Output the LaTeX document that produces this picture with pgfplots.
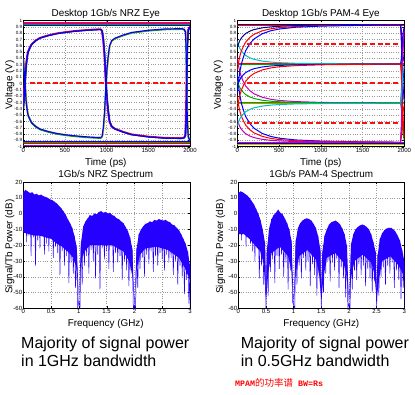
\documentclass[border=0pt]{standalone}
\usepackage{fontspec}
\setmainfont{Liberation Sans}
\newfontfamily\cjk{Noto Sans CJK SC}
\newfontfamily\lmono{Liberation Mono}
\usepackage{pgfplots}
\usepackage{pgfplotstable}
\pgfplotsset{compat=1.18}
\definecolor{mb}{rgb}{0,0,1}
\definecolor{mn}{rgb}{0,0,0.55}
\definecolor{mg}{rgb}{0,0.65,0}
\definecolor{mc}{rgb}{0,0.75,0.75}
\definecolor{mm}{rgb}{0.75,0,0.75}
\definecolor{my}{rgb}{0.75,0.75,0}
\definecolor{mo}{rgb}{0.8,0.55,0}
\definecolor{mk}{rgb}{0.25,0.25,0.25}
\definecolor{mr}{rgb}{1,0,0}
\definecolor{dr}{rgb}{1,0.05,0.05}
\definecolor{sb}{rgb}{0.15,0,1}
\pgfplotsset{mat/.style={scale only axis, anchor=south west,
  axis line style={line width=0.4pt}, tick align=inside, major tick length=2pt,
  tick style={line width=0.3pt, black}, grid=major,
  major grid style={dotted, gray!80, line width=0.35pt},
  xticklabel style={font=\fontsize{6}{6}\selectfont, inner sep=1pt},
  yticklabel style={font=\fontsize{6}{6}\selectfont, inner sep=1pt}},
  eye/.style={mat, xmin=0, xmax=2000, ymin=-1, ymax=1,
  xtick={0,500,1000,1500,2000}, xticklabels={0,500,1000,1500,2000},
  ytick={-1,-0.9,-0.8,-0.7,-0.6,-0.5,-0.4,-0.3,-0.2,-0.1,0,0.1,0.2,0.3,0.4,0.5,0.6,0.7,0.8,0.9,1},
  yticklabels={-1,-0.9,-0.8,-0.7,-0.6,-0.5,-0.4,-0.3,-0.2,-0.1,0,0.1,0.2,0.3,0.4,0.5,0.6,0.7,0.8,0.9,1},
  yticklabel style={font=\fontsize{4.6}{4.6}\selectfont, inner sep=0.8pt}},
  spec/.style={mat, xmin=0, xmax=3, ymin=-60, ymax=20,
  xtick={0,0.5,1,1.5,2,2.5,3}, xticklabels={0,0.5,1,1.5,2,2.5,3},
  ytick={-60,-50,-40,-30,-20,-10,0,10,20}, yticklabels={-60,-50,-40,-30,-20,-10,0,10,20}},
  rdash/.style={color=dr, solid, line width=1.9pt, dash pattern=on 5pt off 2.7pt, forget plot}
}
\pgfplotstableread{
t v
0 -0.40
10 -0.20
20 0.00
35 0.30
50 0.45
60 0.51
80 0.57
100 0.62
150 0.68
200 0.72
300 0.76
400 0.79
500 0.81
600 0.826
700 0.838
800 0.848
900 0.855
930 0.855
945 0.835
960 0.70
975 0.45
990 0.05
1005 -0.25
1020 -0.45
1035 -0.60
1060 -0.68
1100 -0.72
1200 -0.77
1300 -0.81
1500 -0.845
1700 -0.865
1900 -0.87
1930 -0.86
1945 -0.82
1952 -0.6
1957 -0.25
1962 0.2
1968 0.6
1980 0.85
2000 0.9
}\trA
\pgfplotstableread{
t v
0 0.40
10 0.20
20 0.00
35 -0.30
50 -0.45
60 -0.51
80 -0.57
100 -0.62
150 -0.68
200 -0.72
300 -0.76
400 -0.79
500 -0.81
600 -0.826
700 -0.838
800 -0.848
900 -0.855
930 -0.855
945 -0.835
960 -0.70
975 -0.45
990 -0.05
1005 0.25
1020 0.45
1035 0.60
1060 0.68
1100 0.72
1200 0.77
1300 0.81
1500 0.845
1700 0.865
1900 0.87
1930 0.86
1945 0.82
1952 0.6
1957 0.25
1962 -0.2
1968 -0.6
1980 -0.85
2000 -0.9
}\trB
\begin{document}
\begin{tikzpicture}
\useasboundingbox (0,0) rectangle (415pt,394pt);
% ---------------- NRZ eye
\begin{axis}[eye, at={(23.3pt,247.3pt)}, width=166.7pt, height=126.2pt]
\addplot[mg, line width=1pt] coordinates {(0,0.94) (2000,0.94)};
\addplot[mr, line width=1pt] coordinates {(0,0.955) (2000,0.955)};
\addplot[my, line width=0.8pt] coordinates {(0,0.915) (2000,0.915)};
\addplot[mb, line width=0.9pt] coordinates {(0,0.928) (2000,0.928)};
\addplot[mm, line width=0.7pt] coordinates {(0,0.965) (2000,0.965)};
\addplot[mg, line width=0.9pt] coordinates {(0,-0.94) (2000,-0.94)};
\addplot[mb, line width=1pt] coordinates {(0,-0.925) (2000,-0.925)};
\addplot[mr, line width=0.9pt] coordinates {(0,-0.955) (2000,-0.955)};
\addplot[mm, line width=1pt] coordinates {(0,-0.975) (2000,-0.975)};
\addplot[mr, line width=1.1pt, yshift=0.7pt] table[x=t,y=v] {\trA};
\addplot[mm, line width=1.1pt, xshift=-0.6pt] table[x=t,y=v] {\trA};
\addplot[mg, line width=1.1pt, yshift=-0.7pt] table[x=t,y=v] {\trB};
\addplot[my, line width=1.1pt, xshift=0.6pt] table[x=t,y=v] {\trB};
\addplot[mk, line width=1pt, xshift=0.5pt] table[x=t,y=v] {\trA};
\addplot[mb, line width=1.2pt] table[x=t,y=v] {\trA};
\addplot[mb, line width=1.2pt] table[x=t,y=v] {\trB};
\addplot[rdash] coordinates {(75,0.004) (1930,0.004)};
\end{axis}
% ---------------- PAM-4 eye
\begin{axis}[eye, at={(237.3pt,247.3pt)}, width=167pt, height=126.2pt]
\addplot[mc, line width=0.9pt] coordinates {(0,0.94) (2000,0.94)};
\addplot[mr, line width=0.9pt] coordinates {(0,0.92) (2000,0.92)};
\addplot[mn, line width=1pt] coordinates {(0,0.93) (2000,0.93)};
\addplot[mr, line width=0.9pt] coordinates {(0,0.318) (2000,0.318)};
\addplot[mn, line width=0.8pt] coordinates {(0,0.298) (2000,0.298)};
\addplot[mg, line width=1pt] coordinates {(0,0.308) (2000,0.308)};
\addplot[mm, line width=0.9pt] coordinates {(0,-0.322) (2000,-0.322)};
\addplot[mg, line width=0.8pt] coordinates {(0,-0.3) (2000,-0.3)};
\addplot[mo, line width=1pt] coordinates {(0,-0.31) (2000,-0.31)};
\addplot[my, line width=1pt] coordinates {(0,-0.96) (2000,-0.96)};
\addplot[mm, line width=0.9pt] coordinates {(0,-0.93) (2000,-0.93)};
\addplot[mn, line width=1pt] coordinates {(0,-0.945) (2000,-0.945)};
% transitions
\addplot[mc, line width=1pt] coordinates {(0,0.670)(15,0.608)(30,0.558)(50,0.515)(75,0.477)(100,0.446)(150,0.409)(200,0.384)(300,0.356)(400,0.341)(500,0.332)(700,0.322)(1000,0.316)(1400,0.313)(1900,0.31)(1955,0.31)(1965,0.217)(1975,0.0)(1985,-0.186)(2000,-0.279)};
\addplot[mn, line width=1pt] coordinates {(0,0.570)(15,0.632)(30,0.682)(50,0.725)(75,0.763)(100,0.794)(150,0.831)(200,0.856)(300,0.884)(400,0.899)(500,0.908)(700,0.918)(1000,0.924)(1400,0.927)(1900,0.93)(1955,0.93)(1965,0.837)(1975,0.62)(1985,0.434)(2000,0.341)};
\addplot[mm, line width=1pt] coordinates {(0,0.409)(15,0.285)(30,0.186)(50,0.099)(75,0.025)(100,-0.037)(150,-0.112)(200,-0.161)(300,-0.217)(400,-0.248)(500,-0.267)(700,-0.285)(1000,-0.298)(1400,-0.304)(1900,-0.31)(1955,-0.31)(1965,-0.124)(1975,0.31)(1985,0.682)(2000,0.868)};
\addplot[mr, line width=1pt] coordinates {(0,0.211)(15,0.335)(30,0.434)(50,0.521)(75,0.595)(100,0.657)(150,0.732)(200,0.781)(300,0.837)(400,0.868)(500,0.887)(700,0.905)(1000,0.918)(1400,0.924)(1900,0.93)(1955,0.93)(1965,0.651)(1975,0.0)(1985,-0.558)(2000,-0.837)};
\addplot[mb, line width=1pt] coordinates {(0,0.149)(15,-0.037)(30,-0.186)(50,-0.316)(75,-0.428)(100,-0.521)(150,-0.632)(200,-0.707)(300,-0.791)(400,-0.837)(500,-0.865)(700,-0.893)(1000,-0.911)(1400,-0.921)(1900,-0.93)(1955,-0.93)(1965,-0.744)(1975,-0.31)(1985,0.062)(2000,0.248)};
\addplot[mb, line width=1pt] coordinates {(0,-0.149)(15,0.037)(30,0.186)(50,0.316)(75,0.428)(100,0.521)(150,0.632)(200,0.707)(300,0.791)(400,0.837)(500,0.865)(700,0.893)(1000,0.911)(1400,0.921)(1900,0.93)(1955,0.93)(1965,0.744)(1975,0.31)(1985,-0.062)(2000,-0.248)};
\addplot[mg, line width=1pt] coordinates {(0,0.050)(15,-0.012)(30,-0.062)(50,-0.105)(75,-0.143)(100,-0.174)(150,-0.211)(200,-0.236)(300,-0.264)(400,-0.279)(500,-0.288)(700,-0.298)(1000,-0.304)(1400,-0.307)(1900,-0.31)(1955,-0.31)(1965,-0.403)(1975,-0.62)(1985,-0.806)(2000,-0.899)};
\addplot[mb, line width=1pt] coordinates {(0,-0.050)(15,0.012)(30,0.062)(50,0.105)(75,0.143)(100,0.174)(150,0.211)(200,0.236)(300,0.264)(400,0.279)(500,0.288)(700,0.298)(1000,0.304)(1400,0.307)(1900,0.31)(1955,0.31)(1965,0.403)(1975,0.62)(1985,0.806)(2000,0.899)};
\addplot[mr, line width=1pt] coordinates {(0,-0.211)(15,-0.335)(30,-0.434)(50,-0.521)(75,-0.595)(100,-0.657)(150,-0.732)(200,-0.781)(300,-0.837)(400,-0.868)(500,-0.887)(700,-0.905)(1000,-0.918)(1400,-0.924)(1900,-0.93)(1955,-0.93)(1965,-0.837)(1975,-0.62)(1985,-0.434)(2000,-0.341)};
\addplot[mr, line width=1pt] coordinates {(0,-0.409)(15,-0.285)(30,-0.186)(50,-0.099)(75,-0.025)(100,0.037)(150,0.112)(200,0.161)(300,0.217)(400,0.248)(500,0.267)(700,0.285)(1000,0.298)(1400,0.304)(1900,0.31)(1955,0.31)(1965,0.124)(1975,-0.31)(1985,-0.682)(2000,-0.868)};
\addplot[mm, line width=1pt] coordinates {(0,-0.570)(15,-0.632)(30,-0.682)(50,-0.725)(75,-0.763)(100,-0.794)(150,-0.831)(200,-0.856)(300,-0.884)(400,-0.899)(500,-0.908)(700,-0.918)(1000,-0.924)(1400,-0.927)(1900,-0.93)(1955,-0.93)(1965,-0.651)(1975,0.0)(1985,0.558)(2000,0.837)};
\addplot[mc, line width=1pt] coordinates {(0,-0.670)(15,-0.608)(30,-0.558)(50,-0.515)(75,-0.477)(100,-0.446)(150,-0.409)(200,-0.384)(300,-0.356)(400,-0.341)(500,-0.332)(700,-0.322)(1000,-0.316)(1400,-0.313)(1900,-0.31)(1955,-0.31)(1965,-0.217)(1975,0.0)(1985,0.186)(2000,0.279)};
\addplot[rdash] coordinates {(113,-0.63) (1948,-0.63)};
\addplot[rdash] coordinates {(113,0.004) (1948,0.004)};
\addplot[rdash] coordinates {(113,0.63) (1948,0.63)};
\end{axis}
% ---------------- NRZ spectrum
\begin{axis}[spec, at={(23.3pt,85.7pt)}, width=166.7pt, height=126.3pt]
\addplot[fill=sb, draw=none] coordinates {(0,13.5)(0.04,15)(0.08,14)(0.12,13)(0.16,13.5)(0.2,12)(0.24,12.5)(0.28,11.5)(0.32,12)(0.36,11)(0.4,10.5)(0.44,10)(0.48,9)(0.52,8.5)(0.56,7.5)(0.6,6.5)(0.64,5)(0.68,3.5)(0.72,1.5)(0.76,-0.5)(0.8,-3.5)(0.84,-6)(0.88,-9)(0.92,-14)(0.96,-21)(1,-55)(1.04,-18)(1.08,-8)(1.12,-5)(1.16,-3)(1.2,-1)(1.24,-1.5)(1.28,0)(1.32,-0.5)(1.36,1)(1.4,1.5)(1.44,0.5)(1.48,1)(1.52,0)(1.56,0.5)(1.6,-1)(1.64,-1.5)(1.68,-3)(1.72,-3.5)(1.76,-5)(1.8,-6)(1.84,-8.5)(1.88,-11)(1.92,-15)(1.96,-22)(2,-58)(2.04,-22)(2.08,-13)(2.12,-10)(2.16,-8)(2.2,-6.5)(2.24,-6)(2.28,-5)(2.32,-5.5)(2.36,-4)(2.4,-4.5)(2.44,-3.5)(2.48,-4)(2.52,-4.5)(2.56,-4)(2.6,-5)(2.64,-5.5)(2.68,-7)(2.72,-7.5)(2.76,-9)(2.8,-10.5)(2.84,-13)(2.88,-16)(2.92,-19)(2.96,-24)(3,-33)(3,-42)(2.9,-34)(2.8,-28)(2.6,-23)(2.4,-21)(2.2,-22)(2.1,-26)(2.04,-35)(2,-58)(1.96,-38)(1.9,-30)(1.8,-24)(1.6,-20)(1.4,-20)(1.2,-20)(1.1,-24)(1.04,-30)(1,-55)(0.96,-35)(0.9,-28)(0.8,-24)(0.7,-21)(0.6,-19)(0.5,-16)(0.4,-15)(0.3,-14)(0.2,-14)(0.1,-13)(0,-12)} -- cycle;
\addplot[sb, line width=0.5pt] coordinates {(0,13.5)(0.02,-12)(0.04,15)(0.06,-18)(0.08,14)(0.1,-14)(0.12,13)(0.14,-27)(0.16,13.5)(0.18,-15)(0.2,12)(0.22,-33)(0.24,12.5)(0.26,-17)(0.28,11.5)(0.3,-22)(0.32,12)(0.34,-13)(0.36,11)(0.38,-26)(0.4,10.5)(0.42,-19)(0.44,10)(0.46,-24)(0.48,9)(0.5,-16)(0.52,8.5)(0.54,-28)(0.56,7.5)(0.58,-21)(0.6,6.5)(0.62,-25)(0.64,5)(0.66,-39)(0.68,3.5)(0.7,-24)(0.72,1.5)(0.74,-33)(0.76,-0.5)(0.78,-27)(0.8,-3.5)(0.82,-44)(0.84,-6)(0.86,-31)(0.88,-9)(0.9,-38)(0.92,-14)(0.94,-47)(0.96,-21)(0.98,-60)(1,-55)(1.02,-60)(1.04,-18)(1.06,-45)(1.08,-8)(1.1,-33)(1.12,-5)(1.14,-27)(1.16,-3)(1.18,-38)(1.2,-1)(1.22,-23)(1.24,-1.5)(1.26,-30)(1.28,0)(1.3,-41)(1.32,-0.5)(1.34,-26)(1.36,1)(1.38,-48)(1.4,1.5)(1.42,-22)(1.44,0.5)(1.46,-29)(1.48,1)(1.5,-24)(1.52,0)(1.54,-35)(1.56,0.5)(1.58,-21)(1.6,-1)(1.62,-37)(1.64,-1.5)(1.66,-25)(1.68,-3)(1.7,-31)(1.72,-3.5)(1.74,-27)(1.76,-5)(1.78,-42)(1.8,-6)(1.82,-30)(1.84,-8.5)(1.86,-36)(1.88,-11)(1.9,-46)(1.92,-15)(1.94,-38)(1.96,-22)(1.98,-60)(2,-58)(2.02,-60)(2.04,-22)(2.06,-47)(2.08,-13)(2.1,-35)(2.12,-10)(2.14,-28)(2.16,-8)(2.18,-40)(2.2,-6.5)(2.22,-26)(2.24,-6)(2.26,-32)(2.28,-5)(2.3,-24)(2.32,-5.5)(2.34,-37)(2.36,-4)(2.38,-27)(2.4,-4.5)(2.42,-33)(2.44,-3.5)(2.46,-25)(2.48,-4)(2.5,-29)(2.52,-4.5)(2.54,-36)(2.56,-4)(2.58,-26)(2.6,-5)(2.62,-31)(2.64,-5.5)(2.66,-28)(2.68,-7)(2.7,-39)(2.72,-7.5)(2.74,-30)(2.76,-9)(2.78,-45)(2.8,-10.5)(2.82,-33)(2.84,-13)(2.86,-40)(2.88,-16)(2.9,-51)(2.92,-19)(2.94,-42)(2.96,-24)(2.98,-57)(3,-33)(3,-60)};
\end{axis}
% ---------------- PAM-4 spectrum
\begin{axis}[spec, at={(238.3pt,85.7pt)}, width=166pt, height=126.3pt]
\addplot[fill=sb, draw=none] coordinates {(0,13)(0.04,14)(0.08,13.5)(0.12,12.5)(0.16,11.5)(0.2,10)(0.24,8)(0.28,6)(0.32,3)(0.36,0)(0.4,-4)(0.44,-10)(0.48,-18)(0.5,-55)(0.52,-22)(0.56,-9)(0.6,-3.5)(0.64,-1)(0.68,0.5)(0.72,2.5)(0.76,0.5)(0.8,-0.5)(0.84,-3)(0.88,-6)(0.92,-10)(0.96,-17)(1,-58)(1.04,-17)(1.08,-9)(1.12,-6)(1.16,-4.5)(1.2,-3.5)(1.24,-3)(1.28,-3.5)(1.32,-4.5)(1.36,-6.5)(1.4,-9)(1.44,-14)(1.48,-22)(1.5,-55)(1.52,-24)(1.56,-14)(1.6,-10)(1.64,-7)(1.68,-5.5)(1.72,-5)(1.76,-4.5)(1.8,-5.5)(1.84,-7)(1.88,-9.5)(1.92,-13)(1.96,-20)(2,-57)(2.04,-19)(2.08,-13)(2.12,-10)(2.16,-8.5)(2.2,-7.5)(2.24,-7)(2.28,-7.5)(2.32,-8.5)(2.36,-10)(2.4,-13)(2.44,-18)(2.48,-24)(2.5,-55)(2.52,-26)(2.56,-16)(2.6,-12.5)(2.64,-10.5)(2.68,-9.5)(2.72,-9)(2.76,-9)(2.8,-10)(2.84,-11.5)(2.88,-14)(2.92,-17)(2.96,-23)(3,-30)(3,-40)(2.9,-33)(2.75,-27)(2.6,-30)(2.54,-42)(2.5,-55)(2.46,-38)(2.4,-31)(2.25,-26)(2.1,-30)(2.04,-40)(2,-57)(1.96,-40)(1.9,-31)(1.75,-25)(1.6,-28)(1.54,-40)(1.5,-55)(1.46,-38)(1.4,-29)(1.25,-23)(1.1,-27)(1.04,-37)(1,-58)(0.96,-36)(0.9,-27)(0.75,-21)(0.6,-25)(0.54,-38)(0.5,-55)(0.46,-32)(0.4,-24)(0.3,-20)(0.2,-16)(0.1,-13)(0,-13)} -- cycle;
\addplot[sb, line width=0.5pt] coordinates {(0,13)(0.02,-13)(0.04,14)(0.06,-17)(0.08,13.5)(0.1,-12)(0.12,12.5)(0.14,-21)(0.16,11.5)(0.18,-15)(0.2,10)(0.22,-19)(0.24,8)(0.26,-24)(0.28,6)(0.3,-30)(0.32,3)(0.34,-22)(0.36,0)(0.38,-41)(0.4,-4)(0.42,-33)(0.44,-10)(0.46,-45)(0.48,-18)(0.5,-60)(0.52,-22)(0.54,-52)(0.56,-9)(0.58,-37)(0.6,-3.5)(0.62,-29)(0.64,-1)(0.66,-44)(0.68,0.5)(0.7,-27)(0.72,2.5)(0.74,-35)(0.76,0.5)(0.78,-26)(0.8,-0.5)(0.82,-40)(0.84,-3)(0.86,-31)(0.88,-6)(0.9,-48)(0.92,-10)(0.94,-36)(0.96,-17)(0.98,-56)(1,-58)(1.02,-60)(1.04,-17)(1.06,-45)(1.08,-9)(1.1,-33)(1.12,-6)(1.14,-41)(1.16,-4.5)(1.18,-28)(1.2,-3.5)(1.22,-36)(1.24,-3)(1.26,-30)(1.28,-3.5)(1.3,-46)(1.32,-4.5)(1.34,-32)(1.36,-6.5)(1.38,-39)(1.4,-9)(1.42,-52)(1.44,-14)(1.46,-40)(1.48,-22)(1.5,-60)(1.52,-24)(1.54,-50)(1.56,-14)(1.58,-38)(1.6,-10)(1.62,-30)(1.64,-7)(1.66,-43)(1.68,-5.5)(1.7,-31)(1.72,-5)(1.74,-36)(1.76,-4.5)(1.78,-29)(1.8,-5.5)(1.82,-47)(1.84,-7)(1.86,-34)(1.88,-9.5)(1.9,-41)(1.92,-13)(1.94,-53)(1.96,-20)(1.98,-60)(2,-57)(2.02,-60)(2.04,-19)(2.06,-48)(2.08,-13)(2.1,-36)(2.12,-10)(2.14,-42)(2.16,-8.5)(2.18,-32)(2.2,-7.5)(2.22,-39)(2.24,-7)(2.26,-33)(2.28,-7.5)(2.3,-46)(2.32,-8.5)(2.34,-35)(2.36,-10)(2.38,-41)(2.4,-13)(2.42,-50)(2.44,-18)(2.46,-43)(2.48,-24)(2.5,-60)(2.52,-26)(2.54,-52)(2.56,-16)(2.58,-40)(2.6,-12.5)(2.62,-34)(2.64,-10.5)(2.66,-45)(2.68,-9.5)(2.7,-33)(2.72,-9)(2.74,-38)(2.76,-9)(2.78,-31)(2.8,-10)(2.82,-47)(2.84,-11.5)(2.86,-36)(2.88,-14)(2.9,-42)(2.92,-17)(2.94,-54)(2.96,-23)(2.98,-47)(3,-30)(3,-60)};
\end{axis}
% ---------------- texts
\tikzset{lab/.style={font=\fontsize{9.9}{10}\selectfont, inner sep=0pt}}
\node[lab, anchor=base] at (105.8pt,377.3pt) {Desktop 1Gb/s NRZ Eye};
\node[lab, anchor=base] at (320.8pt,377.3pt) {Desktop 1Gb/s PAM-4 Eye};
\node[lab, anchor=base] at (105.8pt,228pt) {Time (ps)};
\node[lab, anchor=base] at (320.8pt,228pt) {Time (ps)};
\node[lab, anchor=base] at (105.8pt,216.7pt) {1Gb/s NRZ Spectrum};
\node[lab, anchor=base] at (321.3pt,216.7pt) {1Gb/s PAM-4 Spectrum};
\node[lab, anchor=base] at (105.8pt,68pt) {Frequency (GHz)};
\node[lab, anchor=base] at (321.3pt,68pt) {Frequency (GHz)};
\node[lab, rotate=90, anchor=center] at (9.7pt,309pt) {Voltage (V)};
\node[lab, rotate=90, anchor=center] at (218.3pt,309pt) {Voltage (V)};
\node[lab, rotate=90, anchor=center] at (9.7pt,147.3pt) {Signal/Tb Power (dB)};
\node[lab, rotate=90, anchor=center] at (220.5pt,147.3pt) {Signal/Tb Power (dB)};
\tikzset{big/.style={font=\fontsize{16}{16}\selectfont, inner sep=0pt, anchor=base west}}
\node[big] at (21pt,45.7pt) {Majority of signal power};
\node[big] at (21pt,27.3pt) {in 1GHz bandwidth};
\node[big] at (240.7pt,45.7pt) {Majority of signal power};
\node[big] at (240.7pt,27.3pt) {in 0.5GHz bandwidth};
\node[text=red, inner sep=0pt, anchor=base west] at (235pt,7.5pt) {{\lmono\bfseries\fontsize{8.3}{9}\selectfont MPAM}{\cjk\fontsize{9.5}{9.5}\selectfont 的功率谱}{\lmono\bfseries\fontsize{8.3}{9}\selectfont\ BW=Rs}};
\end{tikzpicture}
\end{document}
